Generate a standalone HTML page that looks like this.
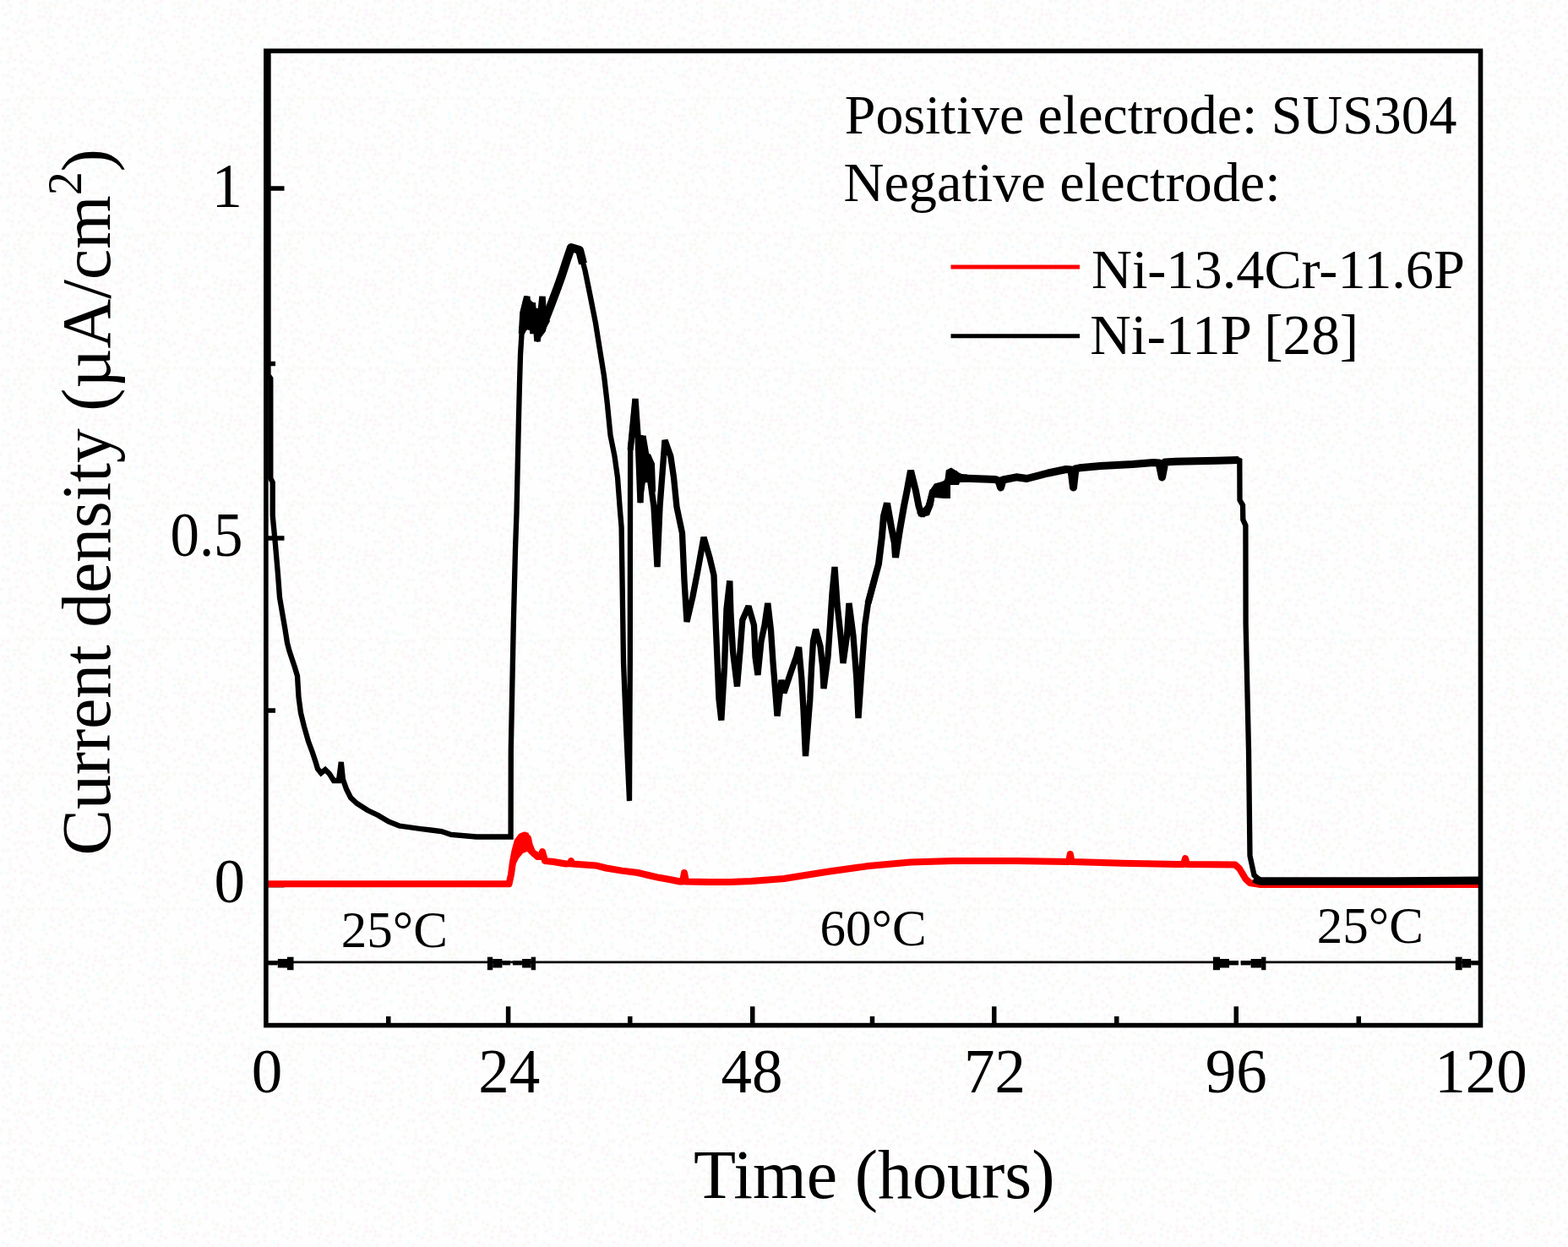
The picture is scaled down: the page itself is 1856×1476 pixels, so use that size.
<!DOCTYPE html>
<html lang="en">
<head>
<meta charset="utf-8">
<title>Current density vs time</title>
<style>
html,body{margin:0;padding:0;background:#fefefe;overflow:hidden}
body{width:1856px;height:1476px}
svg{display:block}
svg text{font-family:"Liberation Serif","DejaVu Serif",serif;fill:#000}
.tick text{font-size:73px}
.leg text{font-size:65.9px}
.temp text{font-size:61px}
.ttl{font-size:82px}
.ytl{font-size:81.6px}
</style>
</head>
<body>
<svg width="1856" height="1476" viewBox="0 0 1856 1476">
<defs><pattern id="dotpat" width="160" height="160" patternUnits="userSpaceOnUse"><rect x="93.3" y="58.7" width="2.7" height="2.7" fill="#f3f3ea"/><rect x="120.0" y="26.7" width="2.7" height="2.7" fill="#f3f3ea"/><rect x="0.0" y="122.7" width="2.7" height="2.7" fill="#fbeaf5"/><rect x="85.3" y="69.3" width="2.7" height="2.7" fill="#fbeaf5"/><rect x="2.7" y="88.0" width="2.7" height="2.7" fill="#f3f3ea"/><rect x="66.7" y="0.0" width="2.7" height="2.7" fill="#e4fafc"/><rect x="69.3" y="133.3" width="2.7" height="2.7" fill="#fbeaf5"/><rect x="120.0" y="42.7" width="2.7" height="2.7" fill="#f3f3ea"/><rect x="138.7" y="77.3" width="2.7" height="2.7" fill="#fbeaf5"/><rect x="112.0" y="10.7" width="2.7" height="2.7" fill="#fbeaf5"/><rect x="74.7" y="2.7" width="2.7" height="2.7" fill="#f3f3ea"/><rect x="5.3" y="141.4" width="2.7" height="2.7" fill="#fbeaf5"/><rect x="117.3" y="128.0" width="2.7" height="2.7" fill="#fbeaf5"/><rect x="117.3" y="114.7" width="2.7" height="2.7" fill="#fbeaf5"/><rect x="58.7" y="122.7" width="2.7" height="2.7" fill="#f3f3ea"/><rect x="96.0" y="93.3" width="2.7" height="2.7" fill="#fbeaf5"/><rect x="58.7" y="18.7" width="2.7" height="2.7" fill="#fbeaf5"/><rect x="104.0" y="85.3" width="2.7" height="2.7" fill="#fbeaf5"/><rect x="48.0" y="72.0" width="2.7" height="2.7" fill="#f3f3ea"/><rect x="29.3" y="133.3" width="2.7" height="2.7" fill="#f3f3ea"/><rect x="146.7" y="133.3" width="2.7" height="2.7" fill="#f3f3ea"/><rect x="82.7" y="48.0" width="2.7" height="2.7" fill="#fbeaf5"/><rect x="88.0" y="98.7" width="2.7" height="2.7" fill="#fbeaf5"/><rect x="82.7" y="154.7" width="2.7" height="2.7" fill="#e4fafc"/><rect x="106.7" y="101.3" width="2.7" height="2.7" fill="#e4fafc"/><rect x="45.3" y="114.7" width="2.7" height="2.7" fill="#f3f3ea"/><rect x="112.0" y="152.0" width="2.7" height="2.7" fill="#f3f3ea"/><rect x="138.7" y="120.0" width="2.7" height="2.7" fill="#e4fafc"/><rect x="149.4" y="5.3" width="2.7" height="2.7" fill="#e4fafc"/><rect x="18.7" y="24.0" width="2.7" height="2.7" fill="#fbeaf5"/><rect x="109.3" y="117.3" width="2.7" height="2.7" fill="#f3f3ea"/><rect x="141.4" y="141.4" width="2.7" height="2.7" fill="#f3f3ea"/><rect x="90.7" y="40.0" width="2.7" height="2.7" fill="#fbeaf5"/><rect x="149.4" y="42.7" width="2.7" height="2.7" fill="#f3f3ea"/><rect x="109.3" y="66.7" width="2.7" height="2.7" fill="#f3f3ea"/><rect x="133.3" y="125.3" width="2.7" height="2.7" fill="#f3f3ea"/><rect x="64.0" y="74.7" width="2.7" height="2.7" fill="#f3f3ea"/><rect x="157.4" y="64.0" width="2.7" height="2.7" fill="#f3f3ea"/><rect x="53.3" y="53.3" width="2.7" height="2.7" fill="#f3f3ea"/><rect x="112.0" y="2.7" width="2.7" height="2.7" fill="#f3f3ea"/><rect x="58.7" y="13.3" width="2.7" height="2.7" fill="#e4fafc"/><rect x="66.7" y="61.3" width="2.7" height="2.7" fill="#fbeaf5"/><rect x="90.7" y="114.7" width="2.7" height="2.7" fill="#f3f3ea"/><rect x="104.0" y="34.7" width="2.7" height="2.7" fill="#e4fafc"/><rect x="24.0" y="93.3" width="2.7" height="2.7" fill="#f3f3ea"/><rect x="37.3" y="106.7" width="2.7" height="2.7" fill="#f3f3ea"/><rect x="58.7" y="80.0" width="2.7" height="2.7" fill="#f3f3ea"/><rect x="144.0" y="8.0" width="2.7" height="2.7" fill="#fbeaf5"/><rect x="53.3" y="144.0" width="2.7" height="2.7" fill="#f3f3ea"/><rect x="120.0" y="146.7" width="2.7" height="2.7" fill="#fbeaf5"/><rect x="18.7" y="53.3" width="2.7" height="2.7" fill="#fbeaf5"/><rect x="24.0" y="72.0" width="2.7" height="2.7" fill="#f3f3ea"/><rect x="90.7" y="93.3" width="2.7" height="2.7" fill="#f3f3ea"/><rect x="144.0" y="106.7" width="2.7" height="2.7" fill="#e4fafc"/><rect x="10.7" y="61.3" width="2.7" height="2.7" fill="#f3f3ea"/><rect x="93.3" y="128.0" width="2.7" height="2.7" fill="#f3f3ea"/><rect x="98.7" y="125.3" width="2.7" height="2.7" fill="#f3f3ea"/><rect x="154.7" y="0.0" width="2.7" height="2.7" fill="#f3f3ea"/><rect x="2.7" y="29.3" width="2.7" height="2.7" fill="#e4fafc"/><rect x="45.3" y="98.7" width="2.7" height="2.7" fill="#f3f3ea"/><rect x="117.3" y="90.7" width="2.7" height="2.7" fill="#f3f3ea"/><rect x="32.0" y="53.3" width="2.7" height="2.7" fill="#fbeaf5"/><rect x="56.0" y="8.0" width="2.7" height="2.7" fill="#f3f3ea"/><rect x="32.0" y="80.0" width="2.7" height="2.7" fill="#fbeaf5"/><rect x="128.0" y="69.3" width="2.7" height="2.7" fill="#e4fafc"/><rect x="26.7" y="144.0" width="2.7" height="2.7" fill="#f3f3ea"/><rect x="16.0" y="37.3" width="2.7" height="2.7" fill="#fbeaf5"/><rect x="138.7" y="154.7" width="2.7" height="2.7" fill="#f3f3ea"/><rect x="128.0" y="120.0" width="2.7" height="2.7" fill="#f3f3ea"/><rect x="29.3" y="8.0" width="2.7" height="2.7" fill="#e4fafc"/><rect x="8.0" y="128.0" width="2.7" height="2.7" fill="#e4fafc"/><rect x="106.7" y="130.7" width="2.7" height="2.7" fill="#e4fafc"/><rect x="69.3" y="128.0" width="2.7" height="2.7" fill="#e4fafc"/><rect x="56.0" y="24.0" width="2.7" height="2.7" fill="#fbeaf5"/><rect x="29.3" y="16.0" width="2.7" height="2.7" fill="#f3f3ea"/><rect x="29.3" y="149.4" width="2.7" height="2.7" fill="#f3f3ea"/><rect x="141.4" y="96.0" width="2.7" height="2.7" fill="#fbeaf5"/><rect x="101.3" y="24.0" width="2.7" height="2.7" fill="#fbeaf5"/><rect x="85.3" y="90.7" width="2.7" height="2.7" fill="#f3f3ea"/><rect x="90.7" y="5.3" width="2.7" height="2.7" fill="#f3f3ea"/><rect x="96.0" y="133.3" width="2.7" height="2.7" fill="#fbeaf5"/><rect x="125.3" y="114.7" width="2.7" height="2.7" fill="#fbeaf5"/><rect x="72.0" y="117.3" width="2.7" height="2.7" fill="#fbeaf5"/><rect x="45.3" y="18.7" width="2.7" height="2.7" fill="#fbeaf5"/><rect x="42.7" y="40.0" width="2.7" height="2.7" fill="#fbeaf5"/><rect x="58.7" y="56.0" width="2.7" height="2.7" fill="#f3f3ea"/><rect x="146.7" y="144.0" width="2.7" height="2.7" fill="#f3f3ea"/><rect x="90.7" y="32.0" width="2.7" height="2.7" fill="#fbeaf5"/><rect x="42.7" y="74.7" width="2.7" height="2.7" fill="#f3f3ea"/><rect x="0.0" y="72.0" width="2.7" height="2.7" fill="#e4fafc"/><rect x="136.0" y="90.7" width="2.7" height="2.7" fill="#fbeaf5"/><rect x="26.7" y="37.3" width="2.7" height="2.7" fill="#f3f3ea"/><rect x="136.0" y="48.0" width="2.7" height="2.7" fill="#fbeaf5"/><rect x="104.0" y="122.7" width="2.7" height="2.7" fill="#fbeaf5"/><rect x="64.0" y="138.7" width="2.7" height="2.7" fill="#fbeaf5"/><rect x="64.0" y="50.7" width="2.7" height="2.7" fill="#f3f3ea"/><rect x="32.0" y="37.3" width="2.7" height="2.7" fill="#fbeaf5"/><rect x="144.0" y="37.3" width="2.7" height="2.7" fill="#f3f3ea"/><rect x="10.7" y="66.7" width="2.7" height="2.7" fill="#fbeaf5"/><rect x="50.7" y="138.7" width="2.7" height="2.7" fill="#e4fafc"/><rect x="56.0" y="42.7" width="2.7" height="2.7" fill="#f3f3ea"/><rect x="104.0" y="74.7" width="2.7" height="2.7" fill="#fbeaf5"/><rect x="112.0" y="16.0" width="2.7" height="2.7" fill="#fbeaf5"/><rect x="13.3" y="90.7" width="2.7" height="2.7" fill="#f3f3ea"/><rect x="114.7" y="48.0" width="2.7" height="2.7" fill="#fbeaf5"/><rect x="69.3" y="29.3" width="2.7" height="2.7" fill="#fbeaf5"/><rect x="29.3" y="48.0" width="2.7" height="2.7" fill="#f3f3ea"/><rect x="96.0" y="141.4" width="2.7" height="2.7" fill="#f3f3ea"/><rect x="40.0" y="154.7" width="2.7" height="2.7" fill="#f3f3ea"/><rect x="16.0" y="133.3" width="2.7" height="2.7" fill="#f3f3ea"/><rect x="61.3" y="114.7" width="2.7" height="2.7" fill="#fbeaf5"/><rect x="72.0" y="104.0" width="2.7" height="2.7" fill="#e4fafc"/><rect x="144.0" y="80.0" width="2.7" height="2.7" fill="#f3f3ea"/><rect x="53.3" y="13.3" width="2.7" height="2.7" fill="#f3f3ea"/><rect x="149.4" y="128.0" width="2.7" height="2.7" fill="#f3f3ea"/><rect x="128.0" y="21.3" width="2.7" height="2.7" fill="#fbeaf5"/><rect x="13.3" y="146.7" width="2.7" height="2.7" fill="#e4fafc"/><rect x="120.0" y="10.7" width="2.7" height="2.7" fill="#f3f3ea"/><rect x="21.3" y="122.7" width="2.7" height="2.7" fill="#f3f3ea"/><rect x="8.0" y="117.3" width="2.7" height="2.7" fill="#fbeaf5"/><rect x="157.4" y="50.7" width="2.7" height="2.7" fill="#f3f3ea"/><rect x="122.7" y="21.3" width="2.7" height="2.7" fill="#fbeaf5"/><rect x="98.7" y="101.3" width="2.7" height="2.7" fill="#f3f3ea"/><rect x="117.3" y="37.3" width="2.7" height="2.7" fill="#f3f3ea"/><rect x="114.7" y="32.0" width="2.7" height="2.7" fill="#e4fafc"/><rect x="85.3" y="109.3" width="2.7" height="2.7" fill="#fbeaf5"/><rect x="48.0" y="48.0" width="2.7" height="2.7" fill="#f3f3ea"/><rect x="61.3" y="69.3" width="2.7" height="2.7" fill="#e4fafc"/><rect x="77.3" y="42.7" width="2.7" height="2.7" fill="#fbeaf5"/><rect x="26.7" y="85.3" width="2.7" height="2.7" fill="#fbeaf5"/><rect x="114.7" y="144.0" width="2.7" height="2.7" fill="#f3f3ea"/><rect x="61.3" y="34.7" width="2.7" height="2.7" fill="#e4fafc"/><rect x="24.0" y="64.0" width="2.7" height="2.7" fill="#fbeaf5"/><rect x="16.0" y="69.3" width="2.7" height="2.7" fill="#fbeaf5"/><rect x="77.3" y="85.3" width="2.7" height="2.7" fill="#fbeaf5"/><rect x="40.0" y="88.0" width="2.7" height="2.7" fill="#fbeaf5"/><rect x="141.4" y="64.0" width="2.7" height="2.7" fill="#e4fafc"/><rect x="8.0" y="136.0" width="2.7" height="2.7" fill="#f3f3ea"/><rect x="34.7" y="138.7" width="2.7" height="2.7" fill="#f3f3ea"/><rect x="66.7" y="93.3" width="2.7" height="2.7" fill="#fbeaf5"/><rect x="101.3" y="16.0" width="2.7" height="2.7" fill="#f3f3ea"/><rect x="128.0" y="0.0" width="2.7" height="2.7" fill="#f3f3ea"/><rect x="154.7" y="10.7" width="2.7" height="2.7" fill="#f3f3ea"/><rect x="93.3" y="13.3" width="2.7" height="2.7" fill="#f3f3ea"/><rect x="117.3" y="16.0" width="2.7" height="2.7" fill="#fbeaf5"/><rect x="37.3" y="114.7" width="2.7" height="2.7" fill="#f3f3ea"/><rect x="50.7" y="18.7" width="2.7" height="2.7" fill="#fbeaf5"/><rect x="13.3" y="101.3" width="2.7" height="2.7" fill="#fbeaf5"/><rect x="53.3" y="114.7" width="2.7" height="2.7" fill="#f3f3ea"/><rect x="58.7" y="74.7" width="2.7" height="2.7" fill="#fbeaf5"/><rect x="82.7" y="104.0" width="2.7" height="2.7" fill="#e4fafc"/><rect x="98.7" y="56.0" width="2.7" height="2.7" fill="#e4fafc"/><rect x="128.0" y="101.3" width="2.7" height="2.7" fill="#f3f3ea"/><rect x="24.0" y="13.3" width="2.7" height="2.7" fill="#fbeaf5"/><rect x="130.7" y="40.0" width="2.7" height="2.7" fill="#f3f3ea"/><rect x="149.4" y="53.3" width="2.7" height="2.7" fill="#e4fafc"/><rect x="50.7" y="133.3" width="2.7" height="2.7" fill="#e4fafc"/><rect x="58.7" y="136.0" width="2.7" height="2.7" fill="#f3f3ea"/><rect x="120.0" y="61.3" width="2.7" height="2.7" fill="#f3f3ea"/><rect x="2.7" y="8.0" width="2.7" height="2.7" fill="#f3f3ea"/><rect x="24.0" y="154.7" width="2.7" height="2.7" fill="#fbeaf5"/><rect x="74.7" y="90.7" width="2.7" height="2.7" fill="#e4fafc"/><rect x="50.7" y="96.0" width="2.7" height="2.7" fill="#fbeaf5"/><rect x="66.7" y="21.3" width="2.7" height="2.7" fill="#f3f3ea"/><rect x="141.4" y="42.7" width="2.7" height="2.7" fill="#f3f3ea"/><rect x="101.3" y="64.0" width="2.7" height="2.7" fill="#fbeaf5"/><rect x="10.7" y="152.0" width="2.7" height="2.7" fill="#f3f3ea"/><rect x="106.7" y="141.4" width="2.7" height="2.7" fill="#fbeaf5"/><rect x="85.3" y="125.3" width="2.7" height="2.7" fill="#f3f3ea"/><rect x="136.0" y="106.7" width="2.7" height="2.7" fill="#e4fafc"/><rect x="106.7" y="146.7" width="2.7" height="2.7" fill="#f3f3ea"/><rect x="29.3" y="21.3" width="2.7" height="2.7" fill="#f3f3ea"/><rect x="128.0" y="149.4" width="2.7" height="2.7" fill="#fbeaf5"/><rect x="152.0" y="21.3" width="2.7" height="2.7" fill="#fbeaf5"/><rect x="82.7" y="146.7" width="2.7" height="2.7" fill="#fbeaf5"/><rect x="0.0" y="56.0" width="2.7" height="2.7" fill="#f3f3ea"/><rect x="10.7" y="141.4" width="2.7" height="2.7" fill="#e4fafc"/><rect x="130.7" y="90.7" width="2.7" height="2.7" fill="#e4fafc"/><rect x="122.7" y="128.0" width="2.7" height="2.7" fill="#f3f3ea"/><rect x="32.0" y="114.7" width="2.7" height="2.7" fill="#f3f3ea"/><rect x="45.3" y="10.7" width="2.7" height="2.7" fill="#e4fafc"/><rect x="32.0" y="104.0" width="2.7" height="2.7" fill="#fbeaf5"/><rect x="56.0" y="64.0" width="2.7" height="2.7" fill="#f3f3ea"/><rect x="138.7" y="2.7" width="2.7" height="2.7" fill="#f3f3ea"/><rect x="5.3" y="16.0" width="2.7" height="2.7" fill="#fbeaf5"/><rect x="77.3" y="56.0" width="2.7" height="2.7" fill="#f3f3ea"/><rect x="152.0" y="154.7" width="2.7" height="2.7" fill="#fbeaf5"/><rect x="144.0" y="0.0" width="2.7" height="2.7" fill="#fbeaf5"/><rect x="120.0" y="96.0" width="2.7" height="2.7" fill="#f3f3ea"/><rect x="128.0" y="133.3" width="2.7" height="2.7" fill="#f3f3ea"/><rect x="85.3" y="18.7" width="2.7" height="2.7" fill="#f3f3ea"/><rect x="48.0" y="106.7" width="2.7" height="2.7" fill="#f3f3ea"/><rect x="21.3" y="18.7" width="2.7" height="2.7" fill="#e4fafc"/><rect x="109.3" y="40.0" width="2.7" height="2.7" fill="#e4fafc"/><rect x="133.3" y="130.7" width="2.7" height="2.7" fill="#fbeaf5"/><rect x="45.3" y="85.3" width="2.7" height="2.7" fill="#fbeaf5"/><rect x="58.7" y="157.4" width="2.7" height="2.7" fill="#fbeaf5"/><rect x="77.3" y="74.7" width="2.7" height="2.7" fill="#f3f3ea"/><rect x="8.0" y="32.0" width="2.7" height="2.7" fill="#fbeaf5"/><rect x="8.0" y="88.0" width="2.7" height="2.7" fill="#fbeaf5"/><rect x="16.0" y="80.0" width="2.7" height="2.7" fill="#fbeaf5"/><rect x="98.7" y="114.7" width="2.7" height="2.7" fill="#fbeaf5"/><rect x="50.7" y="2.7" width="2.7" height="2.7" fill="#f3f3ea"/><rect x="154.7" y="109.3" width="2.7" height="2.7" fill="#e4fafc"/><rect x="112.0" y="98.7" width="2.7" height="2.7" fill="#f3f3ea"/><rect x="133.3" y="120.0" width="2.7" height="2.7" fill="#fbeaf5"/><rect x="98.7" y="146.7" width="2.7" height="2.7" fill="#fbeaf5"/><rect x="29.3" y="0.0" width="2.7" height="2.7" fill="#fbeaf5"/><rect x="10.7" y="5.3" width="2.7" height="2.7" fill="#fbeaf5"/><rect x="64.0" y="5.3" width="2.7" height="2.7" fill="#f3f3ea"/><rect x="80.0" y="80.0" width="2.7" height="2.7" fill="#f3f3ea"/><rect x="32.0" y="125.3" width="2.7" height="2.7" fill="#f3f3ea"/><rect x="8.0" y="45.3" width="2.7" height="2.7" fill="#f3f3ea"/><rect x="109.3" y="90.7" width="2.7" height="2.7" fill="#f3f3ea"/><rect x="157.4" y="117.3" width="2.7" height="2.7" fill="#f3f3ea"/><rect x="50.7" y="8.0" width="2.7" height="2.7" fill="#f3f3ea"/><rect x="133.3" y="154.7" width="2.7" height="2.7" fill="#f3f3ea"/><rect x="72.0" y="77.3" width="2.7" height="2.7" fill="#fbeaf5"/><rect x="8.0" y="0.0" width="2.7" height="2.7" fill="#f3f3ea"/><rect x="56.0" y="90.7" width="2.7" height="2.7" fill="#fbeaf5"/><rect x="146.7" y="85.3" width="2.7" height="2.7" fill="#f3f3ea"/><rect x="77.3" y="130.7" width="2.7" height="2.7" fill="#e4fafc"/><rect x="152.0" y="26.7" width="2.7" height="2.7" fill="#f3f3ea"/><rect x="69.3" y="144.0" width="2.7" height="2.7" fill="#e4fafc"/><rect x="26.7" y="112.0" width="2.7" height="2.7" fill="#f3f3ea"/><rect x="66.7" y="114.7" width="2.7" height="2.7" fill="#f3f3ea"/><rect x="85.3" y="29.3" width="2.7" height="2.7" fill="#fbeaf5"/><rect x="154.7" y="130.7" width="2.7" height="2.7" fill="#f3f3ea"/><rect x="101.3" y="42.7" width="2.7" height="2.7" fill="#f3f3ea"/><rect x="125.3" y="45.3" width="2.7" height="2.7" fill="#f3f3ea"/><rect x="72.0" y="18.7" width="2.7" height="2.7" fill="#fbeaf5"/><rect x="109.3" y="26.7" width="2.7" height="2.7" fill="#f3f3ea"/><rect x="80.0" y="21.3" width="2.7" height="2.7" fill="#fbeaf5"/><rect x="96.0" y="69.3" width="2.7" height="2.7" fill="#f3f3ea"/><rect x="29.3" y="69.3" width="2.7" height="2.7" fill="#fbeaf5"/><rect x="90.7" y="141.4" width="2.7" height="2.7" fill="#f3f3ea"/><rect x="45.3" y="2.7" width="2.7" height="2.7" fill="#f3f3ea"/><rect x="77.3" y="114.7" width="2.7" height="2.7" fill="#f3f3ea"/><rect x="146.7" y="117.3" width="2.7" height="2.7" fill="#e4fafc"/><rect x="61.3" y="128.0" width="2.7" height="2.7" fill="#fbeaf5"/><rect x="82.7" y="120.0" width="2.7" height="2.7" fill="#f3f3ea"/><rect x="122.7" y="72.0" width="2.7" height="2.7" fill="#fbeaf5"/><rect x="152.0" y="146.7" width="2.7" height="2.7" fill="#fbeaf5"/><rect x="90.7" y="50.7" width="2.7" height="2.7" fill="#f3f3ea"/><rect x="125.3" y="50.7" width="2.7" height="2.7" fill="#f3f3ea"/><rect x="10.7" y="82.7" width="2.7" height="2.7" fill="#e4fafc"/><rect x="138.7" y="32.0" width="2.7" height="2.7" fill="#f3f3ea"/><rect x="93.3" y="74.7" width="2.7" height="2.7" fill="#fbeaf5"/><rect x="122.7" y="82.7" width="2.7" height="2.7" fill="#f3f3ea"/><rect x="61.3" y="42.7" width="2.7" height="2.7" fill="#fbeaf5"/><rect x="21.3" y="128.0" width="2.7" height="2.7" fill="#f3f3ea"/><rect x="48.0" y="152.0" width="2.7" height="2.7" fill="#e4fafc"/><rect x="21.3" y="138.7" width="2.7" height="2.7" fill="#fbeaf5"/><rect x="26.7" y="98.7" width="2.7" height="2.7" fill="#fbeaf5"/><rect x="149.4" y="109.3" width="2.7" height="2.7" fill="#f3f3ea"/><rect x="130.7" y="82.7" width="2.7" height="2.7" fill="#fbeaf5"/><rect x="157.4" y="136.0" width="2.7" height="2.7" fill="#fbeaf5"/><rect x="109.3" y="21.3" width="2.7" height="2.7" fill="#f3f3ea"/><rect x="24.0" y="42.7" width="2.7" height="2.7" fill="#fbeaf5"/><rect x="77.3" y="98.7" width="2.7" height="2.7" fill="#f3f3ea"/><rect x="21.3" y="101.3" width="2.7" height="2.7" fill="#f3f3ea"/><rect x="144.0" y="29.3" width="2.7" height="2.7" fill="#fbeaf5"/><rect x="104.0" y="10.7" width="2.7" height="2.7" fill="#f3f3ea"/><rect x="10.7" y="13.3" width="2.7" height="2.7" fill="#f3f3ea"/><rect x="72.0" y="82.7" width="2.7" height="2.7" fill="#fbeaf5"/><rect x="24.0" y="117.3" width="2.7" height="2.7" fill="#fbeaf5"/><rect x="74.7" y="8.0" width="2.7" height="2.7" fill="#f3f3ea"/><rect x="8.0" y="72.0" width="2.7" height="2.7" fill="#f3f3ea"/><rect x="122.7" y="138.7" width="2.7" height="2.7" fill="#e4fafc"/><rect x="10.7" y="56.0" width="2.7" height="2.7" fill="#f3f3ea"/><rect x="152.0" y="120.0" width="2.7" height="2.7" fill="#f3f3ea"/><rect x="24.0" y="2.7" width="2.7" height="2.7" fill="#fbeaf5"/><rect x="114.7" y="66.7" width="2.7" height="2.7" fill="#f3f3ea"/><rect x="13.3" y="21.3" width="2.7" height="2.7" fill="#e4fafc"/><rect x="37.3" y="120.0" width="2.7" height="2.7" fill="#f3f3ea"/><rect x="56.0" y="37.3" width="2.7" height="2.7" fill="#fbeaf5"/><rect x="136.0" y="114.7" width="2.7" height="2.7" fill="#f3f3ea"/><rect x="104.0" y="50.7" width="2.7" height="2.7" fill="#f3f3ea"/><rect x="125.3" y="32.0" width="2.7" height="2.7" fill="#f3f3ea"/><rect x="13.3" y="106.7" width="2.7" height="2.7" fill="#f3f3ea"/><rect x="16.0" y="128.0" width="2.7" height="2.7" fill="#f3f3ea"/><rect x="133.3" y="53.3" width="2.7" height="2.7" fill="#e4fafc"/><rect x="141.4" y="21.3" width="2.7" height="2.7" fill="#fbeaf5"/><rect x="96.0" y="50.7" width="2.7" height="2.7" fill="#e4fafc"/><rect x="104.0" y="117.3" width="2.7" height="2.7" fill="#f3f3ea"/><rect x="61.3" y="101.3" width="2.7" height="2.7" fill="#f3f3ea"/><rect x="8.0" y="98.7" width="2.7" height="2.7" fill="#f3f3ea"/><rect x="2.7" y="136.0" width="2.7" height="2.7" fill="#fbeaf5"/><rect x="37.3" y="34.7" width="2.7" height="2.7" fill="#f3f3ea"/><rect x="56.0" y="32.0" width="2.7" height="2.7" fill="#e4fafc"/><rect x="2.7" y="45.3" width="2.7" height="2.7" fill="#fbeaf5"/><rect x="130.7" y="10.7" width="2.7" height="2.7" fill="#e4fafc"/><rect x="98.7" y="32.0" width="2.7" height="2.7" fill="#f3f3ea"/><rect x="37.3" y="82.7" width="2.7" height="2.7" fill="#f3f3ea"/><rect x="34.7" y="152.0" width="2.7" height="2.7" fill="#f3f3ea"/><rect x="50.7" y="58.7" width="2.7" height="2.7" fill="#f3f3ea"/><rect x="82.7" y="85.3" width="2.7" height="2.7" fill="#e4fafc"/><rect x="66.7" y="104.0" width="2.7" height="2.7" fill="#f3f3ea"/><rect x="21.3" y="34.7" width="2.7" height="2.7" fill="#f3f3ea"/><rect x="2.7" y="152.0" width="2.7" height="2.7" fill="#f3f3ea"/><rect x="26.7" y="26.7" width="2.7" height="2.7" fill="#fbeaf5"/><rect x="74.7" y="122.7" width="2.7" height="2.7" fill="#f3f3ea"/><rect x="2.7" y="117.3" width="2.7" height="2.7" fill="#f3f3ea"/><rect x="136.0" y="13.3" width="2.7" height="2.7" fill="#f3f3ea"/><rect x="80.0" y="34.7" width="2.7" height="2.7" fill="#e4fafc"/><rect x="152.0" y="72.0" width="2.7" height="2.7" fill="#f3f3ea"/><rect x="26.7" y="80.0" width="2.7" height="2.7" fill="#e4fafc"/><rect x="48.0" y="34.7" width="2.7" height="2.7" fill="#f3f3ea"/><rect x="18.7" y="45.3" width="2.7" height="2.7" fill="#e4fafc"/><rect x="114.7" y="106.7" width="2.7" height="2.7" fill="#fbeaf5"/><rect x="80.0" y="69.3" width="2.7" height="2.7" fill="#f3f3ea"/><rect x="18.7" y="114.7" width="2.7" height="2.7" fill="#f3f3ea"/><rect x="122.7" y="16.0" width="2.7" height="2.7" fill="#fbeaf5"/><rect x="125.3" y="61.3" width="2.7" height="2.7" fill="#fbeaf5"/><rect x="141.4" y="13.3" width="2.7" height="2.7" fill="#f3f3ea"/><rect x="157.4" y="85.3" width="2.7" height="2.7" fill="#e4fafc"/><rect x="34.7" y="72.0" width="2.7" height="2.7" fill="#f3f3ea"/><rect x="93.3" y="21.3" width="2.7" height="2.7" fill="#e4fafc"/><rect x="93.3" y="88.0" width="2.7" height="2.7" fill="#f3f3ea"/><rect x="64.0" y="26.7" width="2.7" height="2.7" fill="#f3f3ea"/><rect x="72.0" y="154.7" width="2.7" height="2.7" fill="#f3f3ea"/><rect x="34.7" y="24.0" width="2.7" height="2.7" fill="#fbeaf5"/><rect x="82.7" y="136.0" width="2.7" height="2.7" fill="#fbeaf5"/><rect x="133.3" y="146.7" width="2.7" height="2.7" fill="#e4fafc"/><rect x="24.0" y="133.3" width="2.7" height="2.7" fill="#f3f3ea"/><rect x="82.7" y="0.0" width="2.7" height="2.7" fill="#fbeaf5"/><rect x="58.7" y="2.7" width="2.7" height="2.7" fill="#f3f3ea"/><rect x="34.7" y="58.7" width="2.7" height="2.7" fill="#fbeaf5"/><rect x="96.0" y="8.0" width="2.7" height="2.7" fill="#fbeaf5"/><rect x="122.7" y="0.0" width="2.7" height="2.7" fill="#fbeaf5"/></pattern><filter id="soft" x="0" y="0" width="100%" height="100%"><feGaussianBlur stdDeviation="0.8"/></filter></defs>
<rect x="0" y="0" width="1856" height="1476" fill="#fefefe"/>
<rect x="0" y="0" width="1856" height="1476" fill="url(#dotpat)" filter="url(#soft)"/>
<line x1="315" y1="1047.6" x2="336.5" y2="1047.6" stroke="#000" stroke-width="5.6"/>
<g fill="none" stroke-linejoin="miter" stroke-miterlimit="1.7" stroke-linecap="butt">
<polyline stroke="#f00" stroke-width="8" stroke-linejoin="round" points="316.0,1046.3 602.5,1046.3 605.0,1035.0 607.0,1020.0 609.4,1007.5 612.5,996.0 617.0,990.0 621.0,988.5 625.0,992.0 627.0,1001.0 630.0,1008.0 636.0,1014.0 640.0,1014.0 642.0,1008.0 644.0,1015.0 645.0,1019.0 655.0,1020.0 670.0,1022.5 675.0,1022.0 676.0,1019.0 677.0,1022.5 705.0,1024.4 717.5,1027.5 736.0,1030.6 755.0,1033.0 767.5,1036.0 780.0,1038.8 792.5,1041.0 805.0,1043.5 808.0,1043.5 810.0,1033.0 812.0,1043.5 839.0,1044.0 864.0,1044.0 889.0,1043.0 928.0,1040.0 978.0,1032.0 1028.0,1025.0 1078.0,1020.5 1128.0,1019.0 1203.0,1019.0 1265.0,1020.0 1266.8,1011.0 1268.5,1020.0 1328.0,1021.8 1392.0,1023.0 1401.0,1023.0 1403.0,1016.0 1405.0,1023.0 1462.0,1023.5 1467.0,1028.0 1474.5,1040.5 1479.5,1045.0 1492.0,1047.0 1752.0,1047.0"/>
<polygon fill="#f00" stroke="none" points="606.0,1012.0 609.0,1002.0 612.0,994.0 616.0,988.0 619.5,985.6 625.6,985.6 626.3,999.0 631.0,1000.0 632.0,1007.0 637.0,1008.0 639.0,1018.0 630.0,1014.0 624.0,1008.0 619.0,1010.0 614.0,1016.0 610.0,1024.0"/>
<polyline stroke="#000" stroke-width="6.3" points="317.5,58.0 317.5,444.0 320.3,448.0 320.3,566.0 322.7,571.0 322.7,610.0 326.0,645.0 329.0,680.0 331.0,707.0 334.4,727.0 337.5,745.0 340.0,761.0 342.5,770.5 349.0,790.0 352.0,800.0 353.5,825.0 356.0,843.8 360.0,860.0 365.0,877.5 370.0,891.0 373.8,902.5 376.0,910.0 380.0,915.0 385.0,911.0 390.0,916.0 395.0,924.0 401.0,924.0 403.8,902.0 406.0,922.5 410.0,934.0 415.0,944.0 422.5,951.0 435.0,959.0 447.5,965.0 460.0,972.5 472.5,977.5 497.5,981.0 522.5,984.0 534.0,988.0 564.0,990.5 604.6,990.5 604.8,888.0 607.8,738.0 610.0,650.0 611.5,606.5 614.0,494.0 615.0,454.0 616.0,420.0 617.5,395.0 619.0,370.0 623.8,351.0"/>
<polyline stroke="#000" stroke-width="7.5" points="617.5,395.0 619.0,370.0 623.8,351.0 626.0,390.0 628.0,358.0 631.0,395.0 633.0,365.0 636.0,404.0 639.0,380.0 642.0,351.0 644.0,385.0 648.0,378.0"/>
<polyline stroke="#000" stroke-width="10" stroke-linejoin="round" points="640.0,392.0 651.0,364.0 660.0,340.0 665.0,326.0 671.0,307.5 676.0,293.0 686.0,296.0 690.0,312.0"/>
<polyline stroke="#000" stroke-width="6.3" points="686.0,296.0 692.5,320.0 698.8,351.0 705.0,382.5 710.0,414.0 715.0,445.0 718.8,477.5 722.5,515.0 727.5,540.0 731.0,565.0 733.8,602.5 735.6,624.0 738.0,784.0 741.0,860.0 745.0,948.0 745.8,784.0 746.0,600.0 746.2,532.5 752.0,472.0"/>
<polyline stroke="#000" stroke-width="7.3" points="746.2,532.5 752.0,472.0 755.0,515.0 758.0,595.0 761.0,516.0 765.0,540.0 770.0,571.0 774.0,600.0 778.0,671.0 781.0,600.0 787.0,521.0 793.8,540.0 797.5,565.0 801.0,600.0 807.5,631.0 810.0,687.5 813.0,736.0 820.0,706.0 826.0,675.0 833.0,636.0 840.0,660.0 845.0,681.0 847.5,746.0 851.0,827.5 853.8,852.5 857.5,790.0 860.0,721.0 863.8,687.5 865.0,727.5 867.5,771.0 872.5,812.5 876.0,771.0 878.8,734.0 886.0,717.5 892.5,740.0 894.0,777.5 897.0,799.0 901.0,759.0 905.0,740.0 908.8,714.0 912.5,746.0 915.0,784.0 917.5,815.0 920.0,847.5 925.0,805.0 928.0,820.0 936.0,796.0 942.5,777.5 945.6,766.0 948.8,802.5 951.0,840.0 953.5,895.0 958.8,827.5 960.6,790.0 962.5,759.0 965.6,745.0 971.0,765.0 973.8,790.0 975.0,815.0 980.0,777.5 982.5,740.0 985.0,702.5 988.0,671.0 991.0,715.0 995.0,752.5 998.0,785.0 1002.5,752.5 1005.0,714.0 1010.0,752.5 1013.8,802.5 1016.0,850.0 1021.0,777.5 1023.8,740.0 1027.5,714.0 1035.0,686.0"/>
<polyline stroke="#000" stroke-width="8" points="1027.5,714.0 1035.0,686.0 1040.0,667.5 1043.8,636.0 1046.0,611.0 1050.0,595.6 1055.0,624.0 1058.8,642.5 1060.0,660.0 1065.0,627.5 1070.0,599.0 1073.8,580.0 1078.0,557.0 1083.8,580.0 1087.5,599.0 1091.0,610.0 1100.0,599.0 1103.8,582.5 1108.8,579.0 1117.5,579.0 1122.5,567.5 1123.8,557.0 1132.5,562.5 1140.0,566.0"/>
<polygon fill="#000" stroke="none" points="616.0,372.0 619.0,356.0 623.8,350.0 628.0,355.0 631.0,358.0 634.0,358.0 636.0,380.0 638.0,375.0 640.0,352.0 644.5,352.0 645.0,370.0 648.0,378.0 646.0,392.0 640.0,400.0 637.0,405.0 634.0,404.0 632.0,393.0 624.0,390.0 620.0,396.0 616.0,400.0"/>
<polygon fill="#000" stroke="none" points="1101.0,580.0 1106.0,572.5 1115.0,570.0 1120.0,567.5 1122.5,557.0 1132.5,557.0 1135.0,561.0 1145.0,561.5 1145.0,570.5 1136.0,571.0 1135.0,574.0 1125.0,574.0 1125.0,590.0 1117.5,590.0 1106.0,589.0 1105.0,597.5 1100.0,610.0 1090.0,612.5 1085.0,607.0 1095.0,600.0"/>
<polygon fill="#000" stroke="none" points="754.4,515.0 761.2,515.0 765.0,521.0 765.0,536.0 770.0,537.5 775.0,548.8 776.2,583.8 771.2,571.2 763.8,571.2 762.0,583.8 758.0,596.0 755.0,590.0 754.4,540.0"/>
<polyline stroke="#000" stroke-width="9" stroke-linejoin="round" points="1138.0,566.0 1178.0,567.5 1182.0,569.0 1184.5,577.0 1187.0,568.0 1203.0,564.8 1215.5,566.5 1240.5,560.0 1262.0,555.5 1268.0,556.0 1270.5,577.0 1273.0,555.0 1278.0,553.8 1303.0,551.5 1340.5,549.5 1365.5,547.5 1372.0,548.0 1375.5,565.0 1379.0,547.0 1392.0,546.3 1440.0,545.3 1466.0,544.5"/>
<polyline stroke="#000" stroke-width="6.3" points="1464.0,543.5 1467.3,545.0 1467.5,592.0 1471.0,598.0 1471.3,615.0 1474.4,622.0 1474.6,738.0 1478.0,888.0 1479.5,1013.0 1484.5,1036.0 1492.0,1042.5"/>
<polyline stroke="#000" stroke-width="9.6" stroke-linejoin="round" points="1484.0,1040.0 1492.0,1043.0 1650.0,1043.0 1752.0,1042.3"/>
</g>
<g stroke="#000" stroke-width="5.5" fill="none">
<rect x="314.85" y="60.30" width="1437.65" height="1153.30" stroke-width="5.6"/>
<line x1="601.60" y1="1213.60" x2="601.60" y2="1191.30"/>
<line x1="890.75" y1="1213.60" x2="890.75" y2="1191.30"/>
<line x1="1176.75" y1="1213.60" x2="1176.75" y2="1191.30"/>
<line x1="1463.25" y1="1213.60" x2="1463.25" y2="1191.30"/>
<line x1="459.75" y1="1213.60" x2="459.75" y2="1203.00"/>
<line x1="745.75" y1="1213.60" x2="745.75" y2="1203.00"/>
<line x1="1032.50" y1="1213.60" x2="1032.50" y2="1203.00"/>
<line x1="1321.75" y1="1213.60" x2="1321.75" y2="1203.00"/>
<line x1="1608.25" y1="1213.60" x2="1608.25" y2="1203.00"/>
<line x1="314.85" y1="223.00" x2="336.50" y2="223.00"/>
<line x1="314.85" y1="637.00" x2="336.50" y2="637.00"/>
<line x1="314.85" y1="430.50" x2="326.00" y2="430.50"/>
<line x1="314.85" y1="841.00" x2="326.00" y2="841.00"/>
</g>
<g stroke="#000" stroke-width="2.8" fill="#000">
<line x1="315" y1="1138.8" x2="1466" y2="1138.8"/>
<line x1="1468.8" y1="1138.8" x2="1752" y2="1138.8"/>
</g>
<g fill="#000" stroke="none">
<rect x="340.0" y="1132.7" width="7.5" height="15.5"/><rect x="328.8" y="1135.0" width="11.2" height="10.5"/><rect x="317.2" y="1137.2" width="11.5" height="5.2"/>
<rect x="576.9" y="1132.7" width="6.3" height="15.5"/><rect x="583.2" y="1135.0" width="11.2" height="10.5"/><rect x="594.4" y="1137.2" width="9.6" height="5.2"/>
<rect x="628.7" y="1132.7" width="5.3" height="15.5"/><rect x="618.1" y="1135.0" width="10.6" height="10.5"/><rect x="606.9" y="1137.2" width="11.2" height="5.2"/>
<rect x="1435.9" y="1132.7" width="8.1" height="15.5"/><rect x="1444.0" y="1135.0" width="11.0" height="10.5"/><rect x="1455.0" y="1137.2" width="11.0" height="5.2"/>
<rect x="1493.1" y="1132.7" width="5.3" height="15.5"/><rect x="1480.6" y="1135.0" width="12.5" height="10.5"/><rect x="1468.7" y="1137.2" width="11.9" height="5.2"/>
<rect x="1722.8" y="1132.7" width="7.8" height="15.5"/><rect x="1730.6" y="1135.0" width="10.6" height="10.5"/><rect x="1741.2" y="1137.2" width="9.0" height="5.2"/>
</g>
<g class="leg">
<text x="999.8" y="158">Positive electrode: SUS304</text>
<text x="998.5" y="237.5" style="font-size:66.3px">Negative electrode:</text>
<text x="1292" y="340.5" style="font-size:66.3px">Ni-13.4Cr-11.6P</text>
<text x="1290.3" y="419" style="font-size:67.2px">Ni-11P [28]</text>
</g>
<g stroke-width="5" fill="none">
<line x1="1125.5" y1="316" x2="1278" y2="316" stroke="#f00"/>
<line x1="1125.5" y1="397.7" x2="1278" y2="397.7" stroke="#000"/>
</g>
<g class="temp">
<text x="403.8" y="1121.2">25°C</text>
<text x="970.5" y="1118.5">60°C</text>
<text x="1558.8" y="1116.2">25°C</text>
</g>
<g class="tick">
<text x="316.0" y="1292.5" text-anchor="middle">0</text><text x="602.8" y="1292.5" text-anchor="middle">24</text><text x="890.0" y="1292.5" text-anchor="middle">48</text><text x="1177.4" y="1292.5" text-anchor="middle">72</text><text x="1463.3" y="1292.5" text-anchor="middle">96</text><text x="1753.0" y="1292.5" text-anchor="middle">120</text>
<text x="287.0" y="245.0" text-anchor="end">1</text><text x="287.5" y="657.8" text-anchor="end" textLength="86" lengthAdjust="spacingAndGlyphs">0.5</text><text x="290.0" y="1068.0" text-anchor="end">0</text>
</g>
<text class="ttl" x="821" y="1417.8">Time (hours)</text>
<text class="ytl" transform="translate(129.5,1012.5) rotate(-90)">Current density (µA/cm<tspan font-size="56" dy="-33.5">2</tspan><tspan dy="33.5">)</tspan></text>
</svg>
</body>
</html>
